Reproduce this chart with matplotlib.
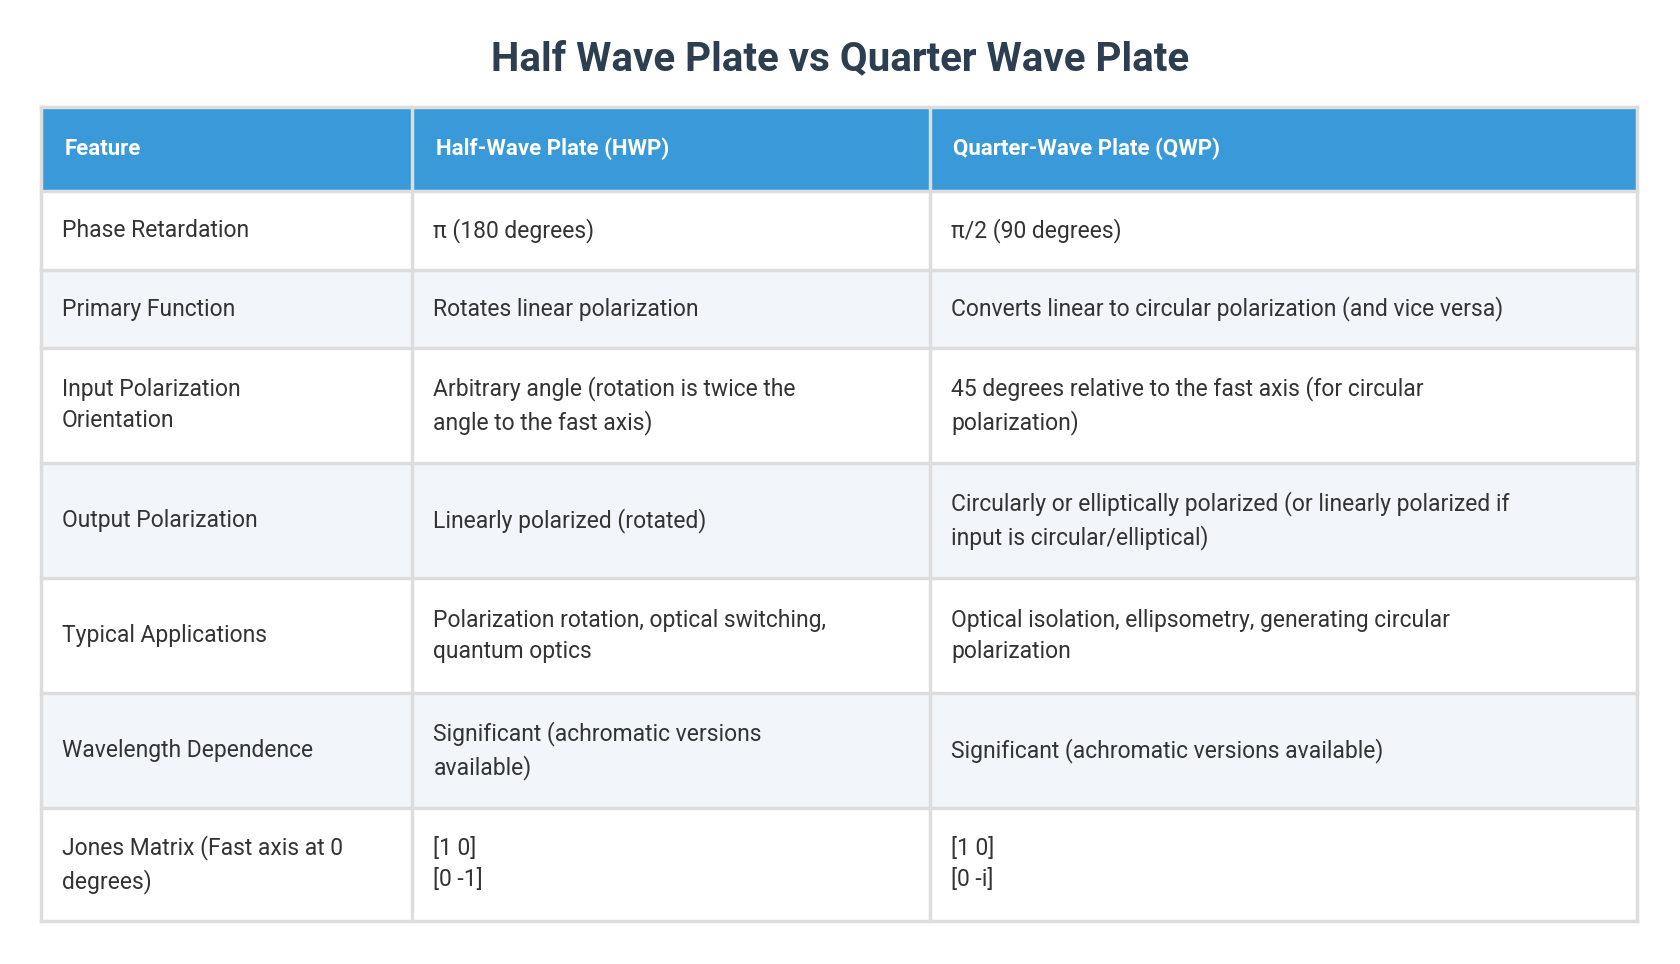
import matplotlib
matplotlib.use("Agg")
import matplotlib.pyplot as plt
from matplotlib.patches import Rectangle

title = "Half Wave Plate vs Quarter Wave Plate"
headers = ["Feature", "Half-Wave Plate (HWP)", "Quarter-Wave Plate (QWP)"]
features = ["Phase Retardation", "Primary Function", "Input Polarization\nOrientation",
            "Output Polarization", "Typical Applications", "Wavelength Dependence",
            "Jones Matrix (Fast axis at 0\ndegrees)"]
hwp = ["π (180 degrees)", "Rotates linear polarization",
       "Arbitrary angle (rotation is twice the\nangle to the fast axis)",
       "Linearly polarized (rotated)",
       "Polarization rotation, optical switching,\nquantum optics",
       "Significant (achromatic versions\navailable)", "[1 0]\n[0 -1]"]
qwp = ["π/2 (90 degrees)", "Converts linear to circular polarization (and vice versa)",
       "45 degrees relative to the fast axis (for circular\npolarization)",
       "Circularly or elliptically polarized (or linearly polarized if\ninput is circular/elliptical)",
       "Optical isolation, ellipsometry, generating circular\npolarization",
       "Significant (achromatic versions available)", "[1 0]\n[0 -i]"]

W, H = 1570, 900
fig = plt.figure(figsize=(16.8, 9.64), dpi=100)
ax = fig.add_axes([0, 0, 1, 1])
ax.set_xlim(0, W); ax.set_ylim(H, 0); ax.axis("off")

cols = [38, 385, 869, 1530]
rows = [100, 178, 252, 325, 432, 540, 647, 754, 860]

ax.text(W/2, 55, title, ha="center", va="center", fontsize=29, fontweight="bold",
        color="#2c3e50", family="Roboto")
ax.add_patch(Rectangle((cols[0], rows[0]), cols[-1]-cols[0], rows[1]-rows[0], color="#3a9ad9", zorder=1))
for j, h in enumerate(headers):
    ax.text(cols[j]+22, (rows[0]+rows[1])/2, h, ha="left", va="center", fontsize=16,
            fontweight="bold", color="white", family="Roboto")
for i in range(len(features)):
    y0, y1 = rows[i+1], rows[i+2]
    bg = "#f2f5f9" if i % 2 == 1 else "white"
    ax.add_patch(Rectangle((cols[0], y0), cols[-1]-cols[0], y1-y0, color=bg, zorder=1))
    for j, t in enumerate([features[i], hwp[i], qwp[i]]):
        ax.text(cols[j]+20, (y0+y1)/2, t, ha="left", va="center", fontsize=16.5,
                color="#333333", family="Roboto", linespacing=1.45, zorder=3)
for y in rows[1:]:
    ax.plot([cols[0], cols[-1]], [y, y], color="#dddddd", lw=2.5, zorder=2)
for x in cols:
    ax.plot([x, x], [rows[0], rows[-1]], color="#dddddd", lw=2.5, zorder=2)
ax.plot([cols[0], cols[-1]], [rows[0], rows[0]], color="#dddddd", lw=2.5, zorder=2)
fig.savefig("out.png", dpi=100)
